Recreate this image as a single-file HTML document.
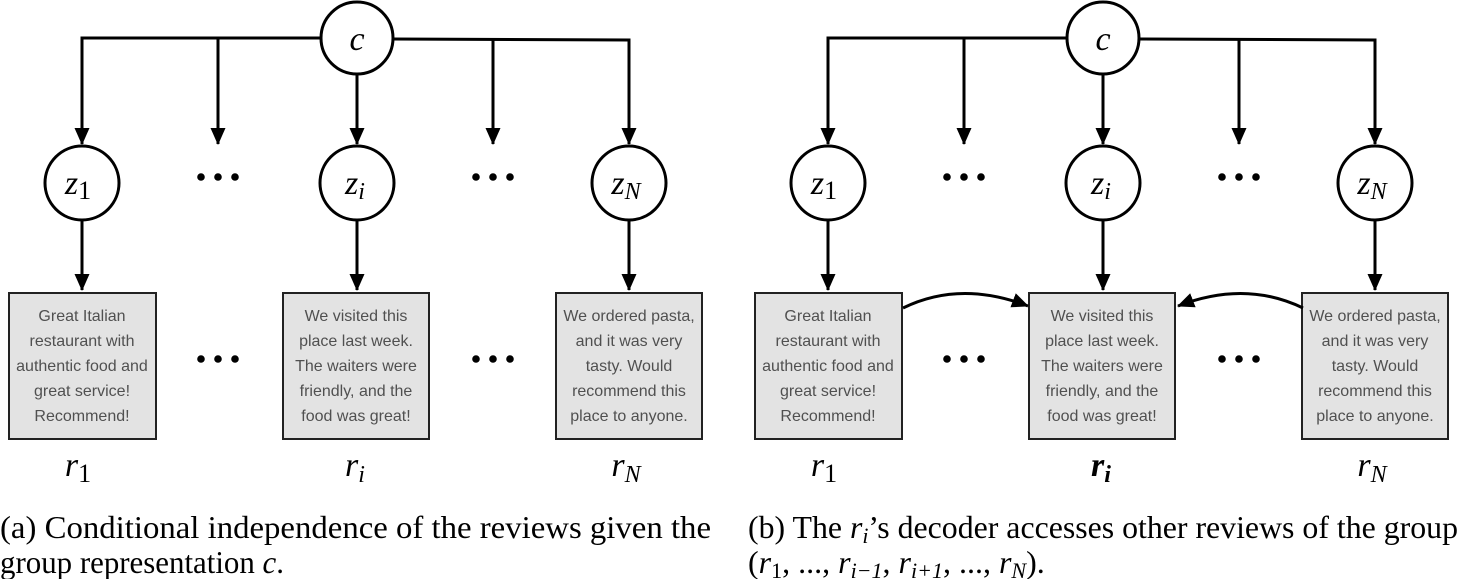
<!DOCTYPE html>
<html><head><style>
html,body{margin:0;padding:0;background:#fff;width:1459px;height:579px;overflow:hidden}
svg{display:block}
.bt{font-family:"Liberation Sans",sans-serif;font-size:16px;fill:#505050;text-anchor:middle}
.m{font-family:"Liberation Serif",serif;font-style:italic;text-anchor:middle}
.cap{font-family:"Liberation Serif",serif;font-size:32px;fill:#000}
</style></head><body>
<svg width="1459" height="579" viewBox="0 0 1459 579" xmlns="http://www.w3.org/2000/svg">
<defs>
<marker id="ah" markerWidth="17" markerHeight="15" refX="16" refY="7.5" orient="auto" markerUnits="userSpaceOnUse" viewBox="0 0 17 15"><path d="M0,0 L17,7.5 L0,15 z" fill="#000"/></marker>
<g id="panel">
  <g stroke="#000" stroke-width="3" fill="none">
    <path d="M321,38 H82 V144" marker-end="url(#ah)" />
    <path d="M218,38 V144" marker-end="url(#ah)"/>
    <path d="M357,75 V144" marker-end="url(#ah)"/>
    <path d="M393,39 L629,40 V144" marker-end="url(#ah)"/>
    <path d="M493,40 V144" marker-end="url(#ah)"/>
    <path d="M82,220 V290" marker-end="url(#ah)"/>
    <path d="M357,220 V290" marker-end="url(#ah)"/>
    <path d="M629,220 V290" marker-end="url(#ah)"/>
  </g>
  <g stroke="#000" stroke-width="3" fill="#fff">
    <ellipse cx="357" cy="38" rx="36" ry="36"/>
    <ellipse cx="82" cy="183" rx="37" ry="37"/>
    <ellipse cx="357" cy="183" rx="37" ry="37"/>
    <ellipse cx="629" cy="183" rx="37" ry="37"/>
  </g>
  <text class="m" x="357" y="50" font-size="34">c</text>
  <text class="m" x="78" y="194" font-size="34">z<tspan font-style="normal" font-size="26" dy="5">1</tspan></text>
  <text class="m" x="355" y="194" font-size="34">z<tspan font-size="24" dy="5">i</tspan></text>
  <text class="m" x="626" y="194" font-size="34">z<tspan font-size="24" dy="5">N</tspan></text>
  <g fill="#000">
    <circle cx="201" cy="177" r="3.8"/><circle cx="218" cy="177" r="3.8"/><circle cx="235" cy="177" r="3.8"/>
    <circle cx="476" cy="177" r="3.8"/><circle cx="493" cy="177" r="3.8"/><circle cx="510" cy="177" r="3.8"/>
    <circle cx="201" cy="359" r="3.8"/><circle cx="218" cy="359" r="3.8"/><circle cx="235" cy="359" r="3.8"/>
    <circle cx="476" cy="359" r="3.8"/><circle cx="493" cy="359" r="3.8"/><circle cx="510" cy="359" r="3.8"/>
  </g>
  <g fill="#e3e3e3" stroke="#222" stroke-width="2">
    <rect x="9" y="293" width="147" height="146"/>
    <rect x="283" y="293" width="146" height="146"/>
    <rect x="556" y="293" width="146" height="146"/>
  </g>
  <text class="bt" x="82" y="321">Great Italian</text>
  <text class="bt" x="82" y="346">restaurant with</text>
  <text class="bt" x="82" y="371">authentic food and</text>
  <text class="bt" x="82" y="396">great service!</text>
  <text class="bt" x="82" y="421">Recommend!</text>
  <text class="bt" x="356" y="321">We visited this</text>
  <text class="bt" x="356" y="346">place last week.</text>
  <text class="bt" x="356" y="371">The waiters were</text>
  <text class="bt" x="356" y="396">friendly, and the</text>
  <text class="bt" x="356" y="421">food was great!</text>
  <text class="bt" x="629" y="321">We ordered pasta,</text>
  <text class="bt" x="629" y="346">and it was very</text>
  <text class="bt" x="629" y="371">tasty. Would</text>
  <text class="bt" x="629" y="396">recommend this</text>
  <text class="bt" x="629" y="421">place to anyone.</text>
</g>
</defs>
<use href="#panel"/>
<use href="#panel" x="746"/>
<g class="m" font-size="34">
<text x="78" y="476">r<tspan font-style="normal" font-size="26" dy="6">1</tspan></text>
<text x="355" y="476">r<tspan font-size="24" dy="6">i</tspan></text>
<text x="626" y="476">r<tspan font-size="24" dy="6">N</tspan></text>
<text x="824" y="476">r<tspan font-style="normal" font-size="26" dy="6">1</tspan></text>
<text x="1101" y="476" font-weight="bold">r<tspan font-size="24" dy="6">i</tspan></text>
<text x="1372" y="476">r<tspan font-size="24" dy="6">N</tspan></text>
</g>
<g stroke="#000" stroke-width="3" fill="none">
<path d="M903,308 Q960,280 1028,306" marker-end="url(#ah)"/>
<path d="M1303,308 Q1245,280 1178,306" marker-end="url(#ah)"/>
</g>
<text class="cap" x="0" y="538" textLength="711" lengthAdjust="spacingAndGlyphs">(a) Conditional independence of the reviews given the</text>
<text class="cap" x="0" y="573" textLength="284" lengthAdjust="spacingAndGlyphs">group representation <tspan font-style="italic">c</tspan>.</text>
<text class="cap" x="748" y="538" textLength="710" lengthAdjust="spacingAndGlyphs">(b) The <tspan font-style="italic">r</tspan><tspan font-style="italic" font-size="22" dy="5">i</tspan><tspan dy="-5">’s decoder accesses other reviews of the group</tspan></text>
<text class="cap" x="748" y="573">(<tspan font-style="italic">r</tspan><tspan font-size="22" dy="5">1</tspan><tspan dy="-5">, ..., </tspan><tspan font-style="italic">r</tspan><tspan font-style="italic" font-size="22" dy="5">i−1</tspan><tspan dy="-5">, </tspan><tspan font-style="italic">r</tspan><tspan font-style="italic" font-size="22" dy="5">i+1</tspan><tspan dy="-5">, ..., </tspan><tspan font-style="italic">r</tspan><tspan font-style="italic" font-size="22" dy="5">N</tspan><tspan dy="-5">).</tspan></text>
</svg>
</body></html>
